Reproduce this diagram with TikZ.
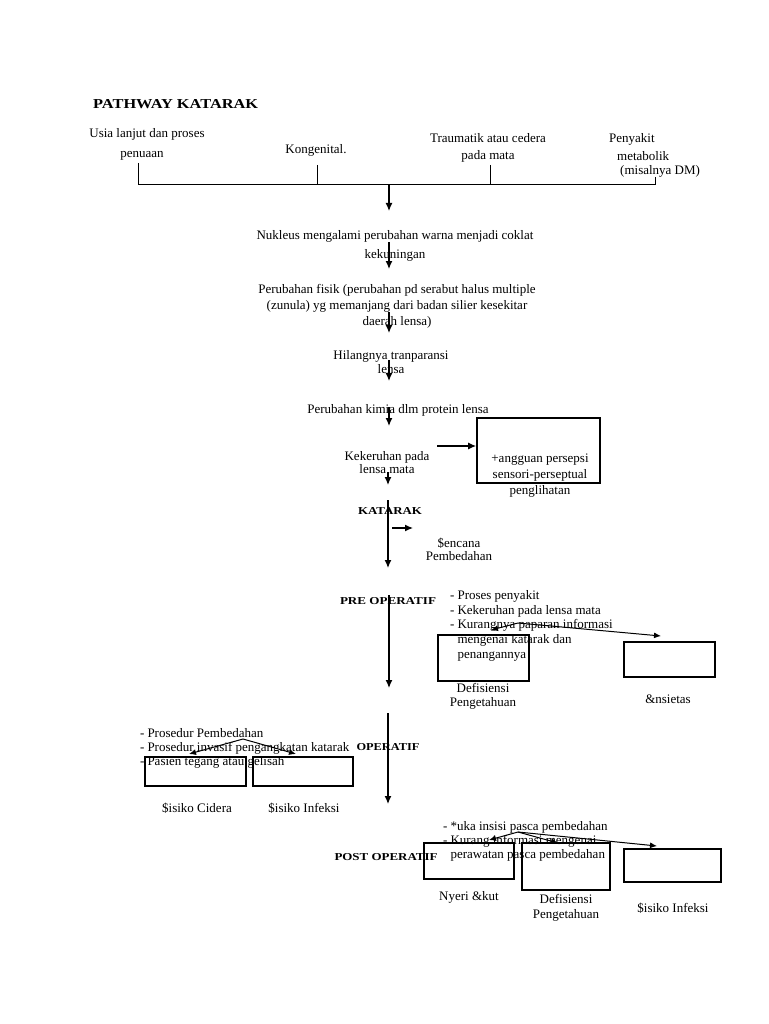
\documentclass[tikz,border=0pt]{standalone}
\usepackage{fontspec}
\setmainfont{Liberation Serif}
\usepackage{graphicx}
\usetikzlibrary{arrows.meta}
\newcommand\capsx[3]{\resizebox{#1}{#2}{\bfseries #3}}
\tikzset{
  txt/.style={inner sep=0pt, align=center},
  flow/.style={line width=1.3pt, -{Latex[length=8pt,width=7pt]}},
  thin/.style={line width=1pt},
  fan/.style={line width=1pt, -{Latex[length=7pt,width=6pt]}},
  boxx/.style={draw, line width=1.6pt, inner sep=0pt},
}
\begin{document}
\begin{tikzpicture}[x=1pt,y=-1pt, font=\fontsize{13}{16}\selectfont]
\useasboundingbox (0,0) rectangle (768,1024);
\fill[white] (0,0) rectangle (768,1024);

% title
\node[txt, anchor=west] (title) at (93,104) {\capsx{165pt}{9pt}{PATHWAY KATARAK}};

% causes
\node[txt] (usia) at (147,134) {Usia lanjut dan proses};
\node[txt] (penuaan) at (142,156) {penuaan};
\node[txt] (kong) at (316,150) {Kongenital.};
\node[txt] (trauma) at (488,147.5) {Traumatik atau cedera\\[1pt]pada mata};
\node[txt, anchor=west] (peny1) at (609,139) {Penyakit};
\node[txt, anchor=west] (peny2) at (617,156) {metabolik};
\node[txt, anchor=west] (peny3) at (620,171) {(misalnya DM)};

\coordinate (t1) at (138,163);
\coordinate (t1b) at (138,185);
\coordinate (t4) at (655,177);
\coordinate (t4b) at (655,185);
\coordinate (t2) at (317,165);
\coordinate (t2b) at (317,185);
\coordinate (t3) at (490,165);
\coordinate (t3b) at (490,185);
\draw[thin] (t1) -- (t1b) -- (t4b) -- (t4);
\draw[thin] (t2) -- (t2b);
\draw[thin] (t3) -- (t3b);

% main chain texts
\node[txt] (nuk) at (395,245.5) {Nukleus mengalami perubahan warna menjadi coklat\\[3pt]kekuningan};
\node[txt] (fisik) at (397,306.5) {Perubahan fisik (perubahan pd serabut halus multiple\\(zunula) yg memanjang dari badan silier kesekitar\\daerah lensa)};
\node[txt] (hilang) at (391,362) {Hilangnya tranparansi\\[-2pt]lensa};
\node[txt] (kimia) at (398,410) {Perubahan kimia dlm protein lensa};
\node[txt] (keruh) at (387,462.5) {Kekeruhan pada\\[-3pt]lensa mata};
\node[txt] (katarak) at (390,511) {\capsx{64pt}{7pt}{KATARAK}};
\node[txt] (rencana) at (459,549.5) {\$encana\\[-3pt]Pembedahan};

% gangguan box
\node[boxx, minimum width=123pt, minimum height=65pt] (ggbox) at (538.5,450.5) {};
\node[txt] (ggtxt) at (540,476) {+angguan persepsi\\sensori-perseptual\\penglihatan};

% main arrows
\coordinate (a1s) at (389,185); \coordinate (a1e) at (389,211);
\coordinate (a2s) at (389,242); \coordinate (a2e) at (389,269);
\coordinate (a3s) at (389,312); \coordinate (a3e) at (389,333);
\coordinate (a4s) at (389,360); \coordinate (a4e) at (389,381);
\coordinate (a5s) at (389,407); \coordinate (a5e) at (389,426);
\coordinate (a6s) at (388,472); \coordinate (a6e) at (388,485);
\coordinate (a7s) at (388,500); \coordinate (a7e) at (388,568);
\coordinate (a8s) at (389,595); \coordinate (a8e) at (389,688);
\coordinate (a9s) at (388,713); \coordinate (a9e) at (388,804);
\draw[flow] (a1s) -- (a1e);
\draw[flow] (a2s) -- (a2e);
\draw[flow] (a3s) -- (a3e);
\draw[flow] (a4s) -- (a4e);
\draw[flow] (a5s) -- (a5e);
\draw[flow] (a6s) -- (a6e);
\draw[flow] (a7s) -- (a7e);
\draw[flow] (a8s) -- (a8e);
\draw[flow] (a9s) -- (a9e);

\coordinate (gs) at (437,446);
\draw[flow] (gs) -- (ggbox.west |- gs);
\coordinate (rs) at (392,528); \coordinate (re) at (413,528);
\draw[flow] (rs) -- (re);

% PRE OPERATIF
\node[txt] (pre) at (388,601) {\capsx{96pt}{7pt}{PRE OPERATIF}};
\node[txt, anchor=west] (prelist) at (450,626) {\fontsize{13}{14.7}\selectfont
\begin{tabular}{@{}l@{\hspace{3pt}}l@{}}
- & Proses penyakit\\
- & Kekeruhan pada lensa mata\\
- & Kurangnya paparan informasi\\
  & mengenai katarak dan\\
  & penangannya
\end{tabular}};
\node[boxx, minimum width=91pt, minimum height=46pt] (defpre) at (483.5,658) {};
\node[boxx, minimum width=91pt, minimum height=35pt] (ansi) at (669.5,659.5) {};
\node[txt] (defpretxt) at (483,696.5) {Defisiensi\\[-2pt]Pengetahuan};
\node[txt] (ansitxt) at (668,699) {\&nsietas};
\coordinate (pap) at (518,623);
\coordinate (pl) at (491,630);
\coordinate (pr) at (661,636);
\draw[fan] (pap) -- (pl);
\draw[fan] (pap) -- (pr);

% OPERATIF
\node[txt] (op) at (388,747) {\capsx{63pt}{7pt}{OPERATIF}};
\node[boxx, minimum width=101pt, minimum height=29pt] (cid) at (195.5,771.5) {};
\node[boxx, minimum width=100pt, minimum height=29pt] (infop) at (303,771.5) {};
\node[txt, anchor=west] (oplist) at (140,749) {\fontsize{13}{14}\selectfont
\begin{tabular}{@{}l@{\hspace{3pt}}l@{}}
- & Prosedur Pembedahan\\
- & Prosedur invasif pengangkatan katarak\\
- & Pasien tegang atau gelisah
\end{tabular}};
\node[txt] (cidtxt) at (197,808) {\$isiko Cidera};
\node[txt] (infoptxt) at (304,808) {\$isiko Infeksi};
\coordinate (oap) at (243,739);
\coordinate (ol) at (189,754);
\coordinate (or) at (296,754);
\draw[fan] (oap) -- (ol);
\draw[fan] (oap) -- (or);

% POST OPERATIF
\node[txt] (post) at (386,857) {\capsx{103pt}{7pt}{POST OPERATIF}};
\node[boxx, minimum width=90pt, minimum height=36pt] (nyeri) at (469,861) {};
\node[boxx, minimum width=88pt, minimum height=47pt] (defpost) at (566,866.5) {};
\node[boxx, minimum width=97pt, minimum height=33pt] (rispost) at (672.5,865.5) {};
\node[txt, anchor=west] (postlist) at (443,842) {\fontsize{13}{14}\selectfont
\begin{tabular}{@{}l@{\hspace{3pt}}l@{}}
- & *uka insisi pasca pembedahan\\
- & Kurang informasi mengenai\\
  & perawatan pasca pembedahan
\end{tabular}};
\node[txt] (nyeritxt) at (469,897) {Nyeri \&kut};
\node[txt] (defposttxt) at (566,908) {Defisiensi\\[-1pt]Pengetahuan};
\node[txt] (risposttxt) at (673,908) {\$isiko Infeksi};
\coordinate (qap) at (518,832);
\coordinate (ql) at (489,840);
\coordinate (qm) at (558,843);
\coordinate (qr) at (657,846);
\draw[fan] (qap) -- (ql);
\draw[fan] (qap) -- (qm);
\draw[fan] (qap) -- (qr);
\end{tikzpicture}
\end{document}
